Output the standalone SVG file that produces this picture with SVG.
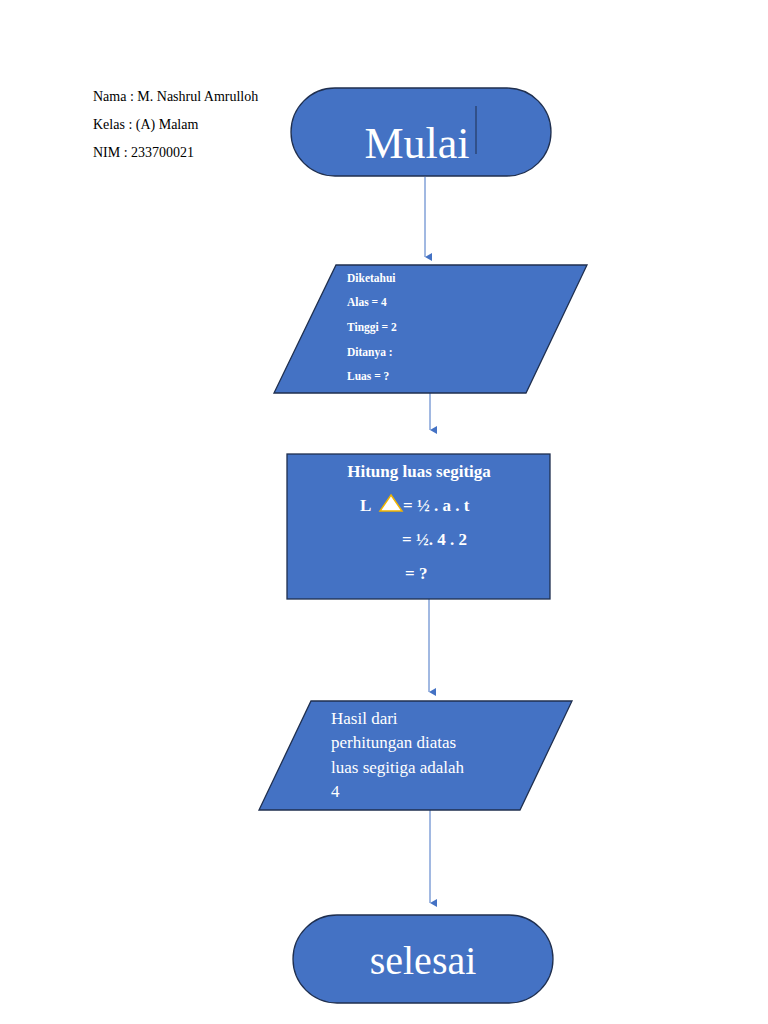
<svg xmlns="http://www.w3.org/2000/svg" width="768" height="1024" viewBox="0 0 768 1024">
<style>
.shape{fill:#4472c4;stroke:#1f2f4f;stroke-width:1.3}
.conn{stroke:#4472c4;stroke-width:1;fill:none}
.t{font-family:"Liberation Serif",serif;fill:#fff}
.b{font-weight:bold}
.hdr{font-family:"Liberation Serif",serif;font-size:14px;fill:#000}
</style>
<defs>
<marker id="ah" markerWidth="8" markerHeight="8" refX="4" refY="7" orient="auto" markerUnits="userSpaceOnUse">
<path d="M0,0 L8,0 L4,7 z" fill="#4472c4"/>
</marker>
</defs>
<rect width="768" height="1024" fill="#fff"/>
<g id="header">
<text class="hdr" x="93" y="101">Nama : M. Nashrul Amrulloh</text>
<text class="hdr" x="93" y="129">Kelas : (A) Malam</text>
<text class="hdr" x="93" y="157">NIM : 233700021</text>
</g>
<g id="connectors">
<line class="conn" x1="425" y1="177" x2="425" y2="257" marker-end="url(#ah)"/>
<line class="conn" x1="430" y1="393" x2="430" y2="430" marker-end="url(#ah)"/>
<line class="conn" x1="429" y1="599" x2="429" y2="692" marker-end="url(#ah)"/>
<line class="conn" x1="430" y1="810" x2="430" y2="903" marker-end="url(#ah)"/>
</g>
<g id="mulai">
<rect class="shape" x="291" y="88" width="260" height="88" rx="44"/>
<text class="t" x="417" y="158" font-size="44" text-anchor="middle">Mulai</text>
<line x1="476" y1="106" x2="476" y2="154" stroke="#1f2f4f" stroke-width="1"/>
</g>
<g id="input">
<polygon class="shape" points="336,265 587,265 526,393 274,393"/>
<text class="t b" font-size="11.5" x="347" y="282">Diketahui</text>
<text class="t b" font-size="11.5" x="347" y="306">Alas = 4</text>
<text class="t b" font-size="11.5" x="347" y="331">Tinggi = 2</text>
<text class="t b" font-size="11.5" x="347" y="356">Ditanya :</text>
<text class="t b" font-size="11.5" x="347" y="380">Luas = ?</text>
</g>
<g id="hitung">
<rect class="shape" x="287" y="454" width="263" height="145"/>
<text class="t b" font-size="17" x="419" y="477" text-anchor="middle">Hitung luas segitiga</text>
<text class="t b" font-size="17" x="360" y="511">L</text>
<polygon points="391,495 402,511 380,511" fill="#fff" stroke="#f0b400" stroke-width="1.5"/>
<text class="t b" font-size="17" x="403" y="511">= ½ . a . t</text>
<text class="t b" font-size="17" x="402" y="545">= ½. 4 . 2</text>
<text class="t b" font-size="17" x="405" y="579">= ?</text>
</g>
<g id="hasil">
<polygon class="shape" points="311,701 572,701 520,810 259,810"/>
<text class="t" font-size="17" x="331" y="724">Hasil dari</text>
<text class="t" font-size="17" x="331" y="748">perhitungan diatas</text>
<text class="t" font-size="17" x="331" y="773">luas segitiga adalah</text>
<text class="t" font-size="17" x="331" y="797">4</text>
</g>
<g id="selesai">
<rect class="shape" x="293" y="915" width="260" height="88" rx="44"/>
<text class="t" x="423" y="974" font-size="40" text-anchor="middle">selesai</text>
</g>
</svg>
